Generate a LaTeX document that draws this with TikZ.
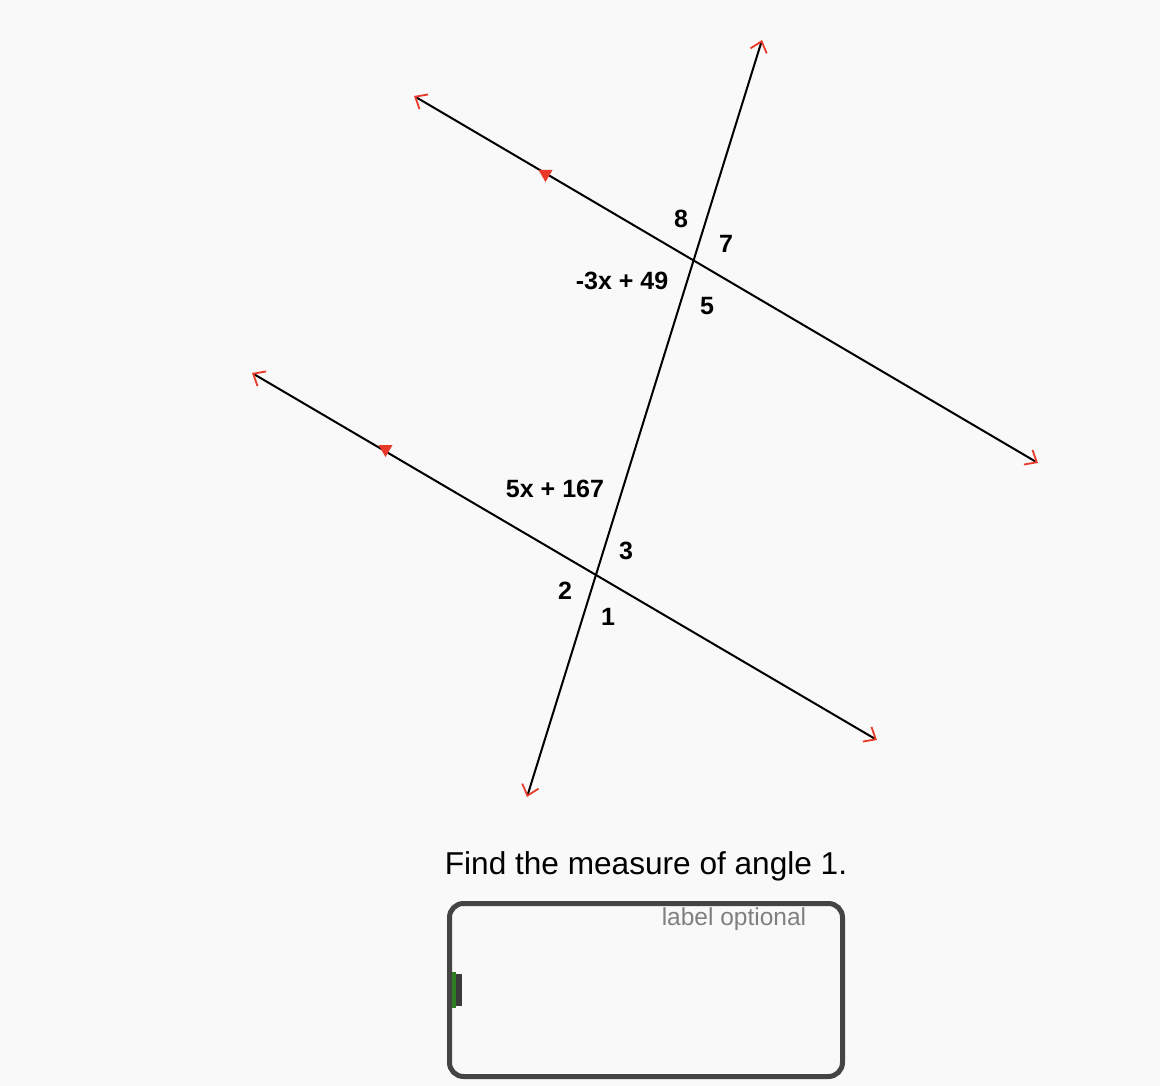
\documentclass[tikz,border=0pt]{standalone}
\usepackage{fontspec}
\setmainfont{Liberation Sans}
\usetikzlibrary{arrows.meta}
\definecolor{bg}{HTML}{F9F9F9}
\definecolor{tipred}{HTML}{E8392A}
\definecolor{boxgray}{HTML}{444444}
\definecolor{labelgray}{HTML}{808080}
\definecolor{cursgreen}{HTML}{2E7D1E}
\definecolor{cursdark}{HTML}{3A3A3A}
\tikzset{
  rayline/.style={black, line width=2pt,
    {Straight Barb[color=tipred,length=10pt,width=17pt,line width=1.8pt]}-{Straight Barb[color=tipred,length=10pt,width=17pt,line width=1.8pt]}},
  anglab/.style={font=\fontsize{25}{28}\selectfont\bfseries, inner sep=0pt, anchor=base},
  parmark/.style={fill=tipred, draw=none},
}
\begin{document}
\begin{tikzpicture}[x=1pt,y=-1pt]
\fill[bg] (0,0) rectangle (1160,1086);
\useasboundingbox (0,0) rectangle (1160,1086);
% line end points
\coordinate (A1) at (414,96);
\coordinate (A2) at (1038,463);
\coordinate (B1) at (252,373);
\coordinate (B2) at (877,740);
\coordinate (T1) at (527,797);
\coordinate (T2) at (762,40);
\draw[rayline] (A1) -- (A2);
\draw[rayline] (B1) -- (B2);
\draw[rayline] (T1) -- (T2);
% parallel markers
\fill[parmark] (538.5,170) -- (552.5,170) -- (545.5,182) -- cycle;
\fill[parmark] (378.5,445) -- (392.5,445) -- (385.5,457) -- cycle;
% angle labels
\node[anglab] (l8) at (681,228) {8};
\node[anglab] (l7) at (726,253) {7};
\node[anglab] (lm3) at (622,290) {-3x + 49};
\node[anglab] (l5) at (707,315) {5};
\node[anglab] (l5x) at (555,497) {5x + 167};
\node[anglab] (l3) at (626,559) {3};
\node[anglab] (l2) at (565,599) {2};
\node[anglab] (l1) at (608,625) {1};
% question
\node[font=\fontsize{31.6}{34}\selectfont, inner sep=0pt, anchor=base] (q) at (646,874) {Find the measure of angle 1.};
% answer box
\draw[boxgray, line width=5pt, rounded corners=14pt] (449.5,903.5) rectangle (842.5,1076.5);
\node[font=\fontsize{24.5}{28}\selectfont, text=labelgray, inner sep=0pt, anchor=base] (opt) at (734,925) {label optional};
\fill[cursgreen] (452,972) rectangle (456,1008);
\fill[cursdark] (456,974) rectangle (462,1006);
\end{tikzpicture}
\end{document}
